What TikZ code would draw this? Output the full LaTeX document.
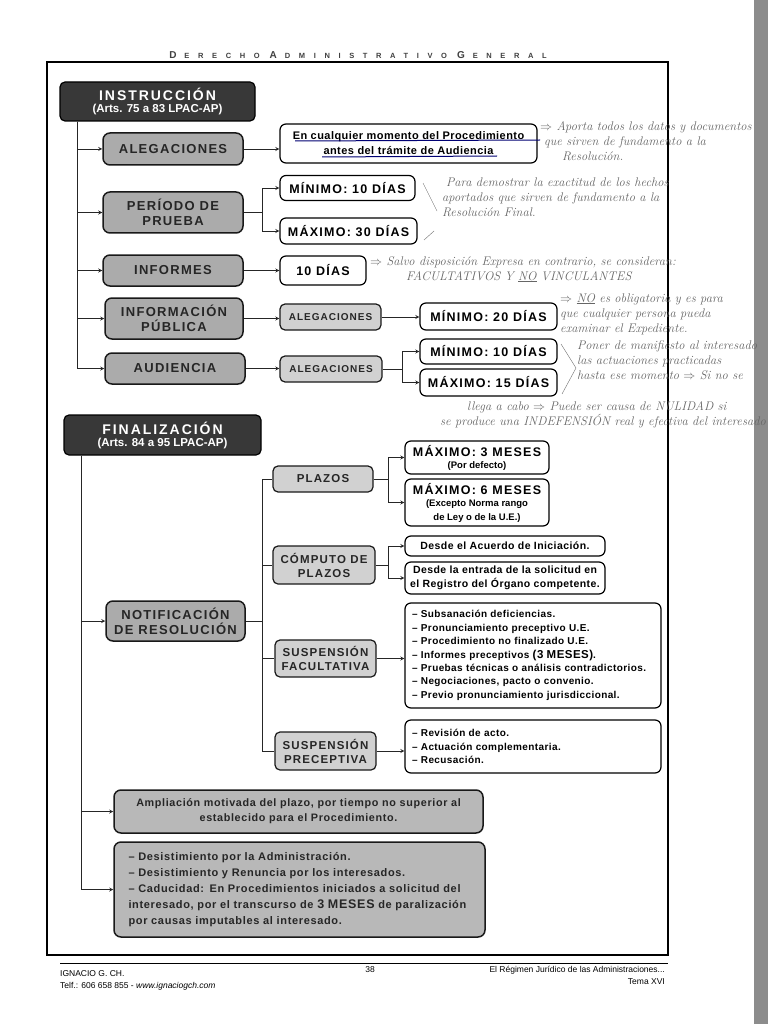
\documentclass[tikz,border=0pt]{standalone}
\usepackage{fontspec}
\setsansfont{Liberation Sans}
\newfontfamily\spc[LetterSpace=10]{Liberation Sans}
\newfontfamily\spcs[LetterSpace=4]{Liberation Sans}
\newfontfamily\spcm[LetterSpace=6]{Liberation Sans}
\newfontfamily\spcw[LetterSpace=14]{Liberation Sans}
\newfontfamily\spctit[LetterSpace=115]{Liberation Sans}
\newcommand\peq{\sffamily\fontsize{9.5}{13}\selectfont\bfseries}
\newcommand\mayus[1]{{\fontsize{10}{10}\selectfont #1}\hspace{8pt}}
\usetikzlibrary{calc}

\tikzset{
	headbox/.style={draw=black,line width=1.2pt,rounded corners=5pt,fill=black!78,text=white,align=center,inner sep=0pt},
	grisbox/.style={draw=black!90,line width=1.5pt,rounded corners=7pt,fill=black!33,text=black!85,align=center,inner sep=0pt,font=\spc\fontsize{13}{15}\selectfont\bfseries},
	clarobox/.style={draw=black!90,line width=1.2pt,rounded corners=5pt,fill=black!18,text=black!85,align=center,inner sep=0pt,font=\spc\fontsize{11.5}{14}\selectfont\bfseries},
	blancobox/.style={draw=black,line width=1.2pt,rounded corners=6pt,fill=white,align=center,inner sep=0pt,font=\spc\fontsize{12.5}{14}\selectfont\bfseries},
	flecha/.style={->,>=stealth,line width=0.8pt,black!85},
	rama/.style={line width=0.8pt,black!85},
	nota/.style={anchor=north west,inner sep=0pt,align=left,text=black!60,font=\rmfamily\itshape\fontsize{12.5}{15}\selectfont},
}

\begin{document}
\begin{tikzpicture}[x=1pt,y=-1pt]
	\useasboundingbox[fill=white] (0,0) rectangle (768,1024);
	\fill[black!45] (754,0) rectangle (768,1024);

	\node[text=black!75,font=\spctit\fontsize{7.5}{8}\selectfont\bfseries] (titulo) at (358,55)
		{\mayus{D}ERECHO\hspace{10pt}\mayus{A}DMINISTRATIVO\hspace{10pt}\mayus{G}ENERAL};
	\draw[line width=1.3pt] (47,62) rectangle (668,955);

	% INSTRUCCION
	\node[headbox,minimum width=195pt,minimum height=39pt] (instr) at (157.5,101.5)
		{{\spcw\fontsize{14}{16}\selectfont\bfseries INSTRUCCIÓN}\\{\sffamily\fontsize{11.5}{13}\selectfont\bfseries (Arts. 75 a 83 LPAC-AP)}};

	\node[grisbox,minimum width=140pt,minimum height=32pt] (aleg) at (173,149) {ALEGACIONES};
	\node[grisbox,minimum width=140pt,minimum height=41pt] (prueba) at (173,212.5) {PERÍODO DE\\PRUEBA};
	\node[grisbox,minimum width=140pt,minimum height=31pt] (informes) at (173,270.5) {INFORMES};
	\node[grisbox,minimum width=138pt,minimum height=41pt] (infpub) at (174,318.5) {INFORMACIÓN\\PÚBLICA};
	\node[grisbox,minimum width=140pt,minimum height=31pt] (audiencia) at (175,368.5) {AUDIENCIA};

	\node[blancobox,minimum width=257pt,minimum height=39pt,font=\spcs\fontsize{11}{15}\selectfont\bfseries] (cualq) at (408.5,143.5)
		{En cualquier momento del Procedimiento\\antes del trámite de Audiencia};
	\node[blancobox,minimum width=135pt,minimum height=25pt] (min10) at (347.5,188) {MÍNIMO: 10 DÍAS};
	\node[blancobox,minimum width=137pt,minimum height=26pt] (max30) at (348.5,231) {MÁXIMO: 30 DÍAS};
	\node[blancobox,minimum width=86pt,minimum height=29pt] (dias10) at (323,270.5) {10 DÍAS};
	\node[clarobox,minimum width=101pt,minimum height=26pt,font=\spc\fontsize{10}{12}\selectfont\bfseries] (aleg2) at (330.5,317) {ALEGACIONES};
	\node[clarobox,minimum width=102pt,minimum height=26pt,font=\spc\fontsize{10}{12}\selectfont\bfseries] (aleg3) at (331,369) {ALEGACIONES};
	\node[blancobox,minimum width=137pt,minimum height=27pt] (min20) at (488.5,316.5) {MÍNIMO: 20 DÍAS};
	\node[blancobox,minimum width=137pt,minimum height=25pt] (min10b) at (488.5,351.5) {MÍNIMO: 10 DÍAS};
	\node[blancobox,minimum width=137pt,minimum height=27pt] (max15) at (488.5,382.5) {MÁXIMO: 15 DÍAS};

	\foreach \n in {aleg,prueba,informes,infpub,audiencia}
		\draw[flecha] ([xshift=18pt]instr.south west) |- (\n.west);
	\draw[flecha] (aleg.east) -- (aleg.east -| cualq.west);
	\draw[flecha] (prueba.east) -- ++(19,0) |- (min10.west);
	\draw[flecha] (prueba.east) -- ++(19,0) |- (max30.west);
	\draw[flecha] (informes.east) -- (informes.east -| dias10.west);
	\draw[flecha] (infpub.east) -- (infpub.east -| aleg2.west);
	\draw[flecha] (aleg2.east) -- (aleg2.east -| min20.west);
	\draw[flecha] (audiencia.east) -- (audiencia.east -| aleg3.west);
	\draw[flecha] (aleg3.east) -- ++(20,0) |- (min10b.west);
	\draw[flecha] (aleg3.east) -- ++(20,0) |- (max15.west);

	% FINALIZACION
	\node[headbox,minimum width=197pt,minimum height=40pt] (final) at (162.5,435)
		{{\spcw\fontsize{14}{16}\selectfont\bfseries FINALIZACIÓN}\\{\sffamily\fontsize{11.5}{13}\selectfont\bfseries (Arts. 84 a 95 LPAC-AP)}};
	\node[grisbox,minimum width=139pt,minimum height=40pt] (notif) at (175.5,621) {NOTIFICACIÓN\\DE RESOLUCIÓN};

	\node[clarobox,minimum width=100pt,minimum height=26pt] (plazos) at (323,479) {PLAZOS};
	\node[clarobox,minimum width=102pt,minimum height=38pt] (computo) at (324,565) {CÓMPUTO DE\\PLAZOS};
	\node[clarobox,minimum width=101pt,minimum height=37pt] (susp1) at (325.5,658.5) {SUSPENSIÓN\\FACULTATIVA};
	\node[clarobox,minimum width=101pt,minimum height=38pt] (susp2) at (325.5,751) {SUSPENSIÓN\\PRECEPTIVA};

	\node[blancobox,minimum width=144pt,minimum height=33pt] (max3) at (477,457.5)
		{MÁXIMO: 3 MESES\\[-2pt]\peq (Por defecto)};
	\node[blancobox,minimum width=144pt,minimum height=47pt] (max6) at (477,502.5)
		{MÁXIMO: 6 MESES\\[-2pt]\peq (Excepto Norma rango\\\peq de Ley o de la U.E.)};
	\node[blancobox,minimum width=200pt,minimum height=20pt,font=\spcs\fontsize{10.5}{14}\selectfont\bfseries] (acuerdo) at (505,546)
		{Desde el Acuerdo de Iniciación.};
	\node[blancobox,minimum width=200pt,minimum height=32pt,font=\spcs\fontsize{10.5}{14}\selectfont\bfseries] (entrada) at (505,578)
		{Desde la entrada de la solicitud en\\el Registro del Órgano competente.};
	\node[blancobox,minimum width=256pt,minimum height=105pt,text width=242pt,align=left,font=\spcs\fontsize{10}{13.4}\selectfont\bfseries] (lista1) at (533,655.5)
		{– Subsanación deficiencias.\\
		 – Pronunciamiento preceptivo U.E.\\
		 – Procedimiento no finalizado U.E.\\
		 – Informes preceptivos {\fontsize{11.5}{13}\selectfont(3 MESES)}.\\
		 – Pruebas técnicas o análisis contradictorios.\\
		 – Negociaciones, pacto o convenio.\\
		 – Previo pronunciamiento jurisdiccional.};
	\node[blancobox,minimum width=256pt,minimum height=53pt,text width=242pt,align=left,font=\spcs\fontsize{10}{13.4}\selectfont\bfseries] (lista2) at (533,746.5)
		{– Revisión de acto.\\
		 – Actuación complementaria.\\
		 – Recusación.};

	\node[grisbox,minimum width=369pt,minimum height=43pt,fill=black!28,font=\spcm\fontsize{10.8}{15}\selectfont\bfseries] (ampl) at (298.5,811.5)
		{Ampliación motivada del plazo, por tiempo no superior al\\establecido para el Procedimiento.};
	\node[grisbox,minimum width=371pt,minimum height=95pt,fill=black!28,text width=342pt,align=left,font=\spcm\fontsize{11}{16}\selectfont\bfseries] (desist) at (299.5,889.5)
		{– Desistimiento por la Administración.\\
		 – Desistimiento y Renuncia por los interesados.\\
		 – Caducidad: En Procedimientos iniciados a solicitud del\\
		 interesado, por el transcurso de {\fontsize{12.5}{16}\selectfont 3 MESES} de paralización\\
		 por causas imputables al interesado.};

	\foreach \n in {notif,ampl,desist}
		\draw[flecha] ([xshift=18pt]final.south west) |- (\n.west);
	\foreach \n in {plazos,computo,susp1,susp2}
		\draw[rama] (notif.east) -- ++(17,0) |- (\n.west);
	\foreach \n in {max3,max6}
		\draw[flecha] (plazos.east) -- ++(15,0) |- (\n.west);
	\foreach \n in {acuerdo,entrada}
		\draw[flecha] (computo.east) -- ++(13,0) |- (\n.west);
	\draw[flecha] (susp1.east) -- (susp1.east -| lista1.west);
	\draw[flecha] (susp2.east) -- (susp2.east -| lista2.west);

	% notas a mano
	\draw[blue!45!black,line width=1pt] (295,141) -- (540,140);
	\draw[blue!45!black,line width=1pt] (322,157) -- (497,156);
	\node[nota] (n1) at (540,121) {$\Rightarrow$ Aporta todos los datos y documentos\\\hspace*{4pt}que sirven de fundamento a la\\\hspace*{22pt}Resolución.};
	\draw[black!55] (423,183) -- (437,211);
	\draw[black!55] (424,240) -- (434,231);
	\node[nota] (n2) at (442,178) {\hspace*{4pt}Para demostrar la exactitud de los hechos\\aportados que sirven de fundamento a la\\Resolución Final.};
	\node[nota] (n3) at (370,256) {$\Rightarrow$ Salvo disposición Expresa en contrario, se consideran:\\\hspace*{36pt}FACULTATIVOS Y \underline{NO} VINCULANTES};
	\node[nota] (n4) at (560,293) {$\Rightarrow$ \underline{NO} es obligatoria y es para\\que cualquier persona pueda\\examinar el Expediente.};
	\draw[black!55] (561,344) -- (576,368) -- (562,394);
	\node[nota] (n5) at (577,340) {Poner de manifiesto al interesado\\las actuaciones practicadas\\hasta ese momento $\Rightarrow$ Si no se};
	\node[nota] (n6) at (440,401) {\hspace*{27pt}llega a cabo $\Rightarrow$ Puede ser causa de NULIDAD si\\se produce una INDEFENSIÓN real y efectiva del interesado};

	% pie
	\draw[line width=0.8pt] (60,963) -- (668,963);
	\node[anchor=north west,inner sep=0pt,align=left,font=\sffamily\fontsize{8.5}{12}\selectfont] (autor) at (60,970)
		{IGNACIO G. CH.\\Telf.: 606 658 855 - \textit{www.ignaciogch.com}};
	\node[anchor=north,inner sep=0pt,font=\sffamily\fontsize{8.5}{12}\selectfont] (pag) at (370,966) {38};
	\node[anchor=north east,inner sep=0pt,align=right,font=\sffamily\fontsize{8.5}{12}\selectfont] (tema) at (665,966)
		{El Régimen Jurídico de las Administraciones...\\Tema XVI};
\end{tikzpicture}
\end{document}
